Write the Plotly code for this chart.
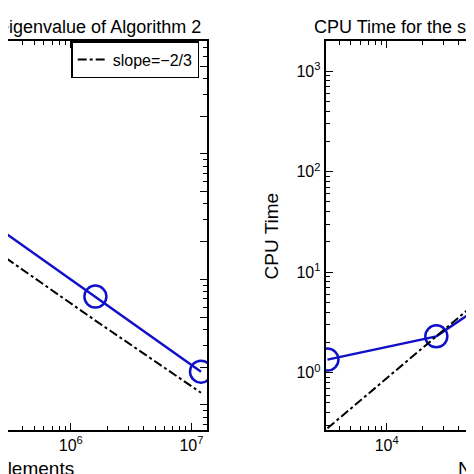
import numpy as np
import plotly.graph_objects as go

# degrees of freedom / number of elements (refined by 8x each step)
elements = [3.2e3, 2.6e4, 2.0e5, 1.6e6, 1.2e7]
err_alg2 = [0.50, 0.12, 0.030, 7.3e-3, 1.84e-3]
ref_err = [0.30, 0.075, 0.019, 4.7e-3, 1.25e-3]      # slope=-2/3
cpu_time = [1.35, 2.3, 12.0, 80.0, 600.0]
ref_cpu = [0.28, 2.3, 18.0, 145.0, 1100.0]            # slope=1

BLUE = "#1010c8"
fnt = dict(family="Liberation Sans, Arial", size=16, color="black")

fig = go.Figure()
fig.add_trace(go.Scatter(x=elements, y=err_alg2, mode="lines+markers", xaxis="x", yaxis="y",
                         line=dict(color=BLUE, width=2.5),
                         marker=dict(size=22, symbol="circle-open", color=BLUE, line=dict(width=2.5)),
                         showlegend=False))
fig.add_trace(go.Scatter(x=elements, y=ref_err, mode="lines", xaxis="x", yaxis="y",
                         line=dict(color="black", width=2, dash="dashdot"), name="slope=\u22122/3"))
fig.add_trace(go.Scatter(x=elements, y=cpu_time, mode="lines+markers", xaxis="x2", yaxis="y2",
                         line=dict(color=BLUE, width=2.5),
                         marker=dict(size=22, symbol="circle-open", color=BLUE, line=dict(width=2.5)),
                         showlegend=False))
fig.add_trace(go.Scatter(x=elements, y=ref_cpu, mode="lines", xaxis="x2", yaxis="y2",
                         line=dict(color="black", width=2, dash="dashdot"), showlegend=False))

ax = dict(type="log", showgrid=False, zeroline=False, ticks="inside", ticklen=7,
          tickcolor="black", linecolor="black", linewidth=2, showline=True,
          tickfont=fnt, minor=dict(ticks="inside", ticklen=4, tickcolor="black", dtick="D1",
                                   showgrid=False))
fig.update_layout(
    width=474, height=474, plot_bgcolor="white", paper_bgcolor="white",
    margin=dict(l=0, r=0, t=33, b=52), font=fnt,
    xaxis=dict(ax, domain=[0, 200 / 474], range=[5.48, 7.13], mirror="ticks",
               tickvals=[1e6, 1e7], ticktext=["10<sup>6</sup>", "10<sup>7</sup>"]),
    yaxis=dict(ax, anchor="x", side="right", range=[-3.2, -0.1], showticklabels=False),
    xaxis2=dict(ax, domain=[319 / 474, 1], range=[3.49, 4.78], mirror="ticks", anchor="y2",
                tickvals=[1e4], ticktext=["10<sup>4</sup>"]),
    yaxis2=dict(ax, anchor="x2", range=[-0.57, 3.3], mirror="ticks",
                tickvals=[1, 10, 100, 1000],
                ticktext=["10<sup>0</sup>", "10<sup>1</sup>", "10<sup>2</sup>", "10<sup>3</sup>"]),
    legend=dict(x=192 / 474, xanchor="right", y=1, yanchor="top", bgcolor="white",
                bordercolor="black", borderwidth=1.5, font=fnt),
)
fig.add_annotation(text="Error of the eigenvalue of Algorithm 2", xref="paper", yref="paper",
                   x=196 / 474, y=1, xanchor="right", yanchor="bottom", yshift=2,
                   showarrow=False, font=dict(fnt, size=18))
fig.add_annotation(text="Number of Elements", xref="paper", yref="paper",
                   x=68 / 474, y=0, xanchor="right", yanchor="top", yshift=-26,
                   showarrow=False, font=dict(fnt, size=19))
fig.add_annotation(text="CPU Time for the solver", xref="paper", yref="paper",
                   x=305 / 474, y=1, xanchor="left", yanchor="bottom", yshift=2,
                   showarrow=False, font=dict(fnt, size=18))
fig.add_annotation(text="Number of Elements", xref="paper", yref="paper",
                   x=450 / 474, y=0, xanchor="left", yanchor="top", yshift=-26,
                   showarrow=False, font=dict(fnt, size=19))
fig.add_annotation(text="CPU Time", xref="paper", yref="paper", textangle=-90,
                   x=265 / 474, y=0.5, xanchor="center", yanchor="middle",
                   showarrow=False, font=dict(fnt, size=19))

fig.write_html("out.html")
